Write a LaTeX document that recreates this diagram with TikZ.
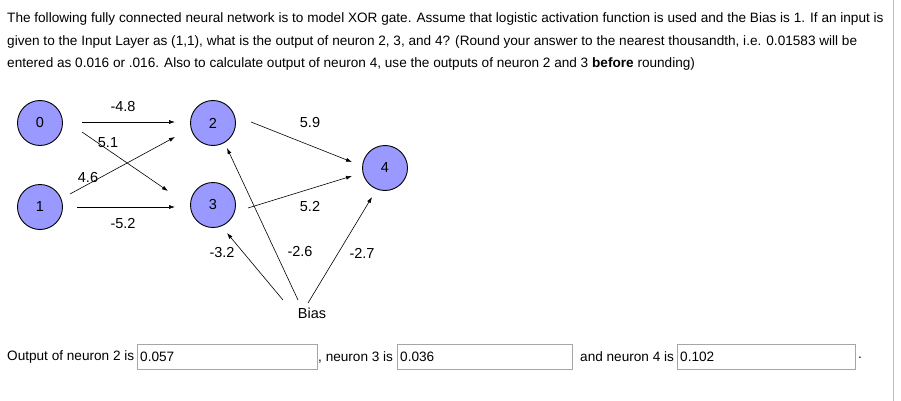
\documentclass[tikz,border=0pt]{standalone}
\usepackage{fontspec}
\setmainfont{Liberation Sans}
\usetikzlibrary{arrows.meta}
\begin{document}
\begin{tikzpicture}[x=1pt,y=-1pt,
  neuron/.style={circle,draw=black,line width=0.9pt,fill={rgb,255:red,153;green,153;blue,255},minimum size=45pt,inner sep=0pt,font=\fontsize{14.5}{16}\selectfont},
  wlab/.style={font=\fontsize{14.5}{16}\selectfont},
  conn/.style={-{Latex[length=6pt,width=4pt]},line width=0.6pt},
  hdr/.style={anchor=west,inner sep=0pt,font=\fontsize{13.6}{15}\selectfont},
  ansbox/.style={draw=gray!70,minimum height=25pt,anchor=west,inner sep=3pt,align=left,font=\fontsize{13.6}{15}\selectfont,text depth=0pt}]
\useasboundingbox (0,0) rectangle (901,401);
\draw[gray!50] (893,0) -- (893,401);
\node[hdr] (h1) at (7,19) {The following fully connected neural network is to model XOR gate. Assume that logistic activation function is used and the Bias is 1. If an input is};
\node[hdr] (h2) at (7,42) {given to the Input Layer as (1,1), what is the output of neuron 2, 3, and 4? (Round your answer to the nearest thousandth, i.e. 0.01583 will be};
\node[hdr] (h3) at (7,64) {entered as 0.016 or .016. Also to calculate output of neuron 4, use the outputs of neuron 2 and 3 \textbf{before} rounding)};
\node[neuron] (n0) at (40,123) {0};
\node[neuron] (n1) at (40,207) {1};
\node[neuron] (n2) at (213,123) {2};
\node[neuron] (n3) at (213,205) {3};
\node[neuron] (n4) at (385,168) {4};
\node[wlab] (bias) at (312,313) {Bias};
\coordinate (a0s) at (82,122); \coordinate (a0e) at (175,122);
\coordinate (b0s) at (82,132); \coordinate (b0e) at (168,191);
\coordinate (a1s) at (70,194); \coordinate (a1e) at (175,137);
\coordinate (b1s) at (77,207); \coordinate (b1e) at (175,207);
\coordinate (c2s) at (251,122); \coordinate (c2e) at (352,162);
\coordinate (c3s) at (248,208); \coordinate (c3e) at (352,176);
\coordinate (d3s) at (283,300); \coordinate (d3e) at (227,233);
\coordinate (d2s) at (298,300); \coordinate (d2e) at (227,148);
\coordinate (d4s) at (308,303); \coordinate (d4e) at (372,197);
\draw[conn] (a0s) -- (a0e);
\draw[conn] (b0s) -- (b0e);
\draw[conn] (a1s) -- (a1e);
\draw[conn] (b1s) -- (b1e);
\draw[conn] (c2s) -- (c2e);
\draw[conn] (c3s) -- (c3e);
\draw[conn] (d3s) -- (d3e);
\draw[conn] (d2s) -- (d2e);
\draw[conn] (d4s) -- (d4e);
\node[wlab] (l1) at (123,107) {-4.8};
\node[wlab] (l2) at (108,143) {5.1};
\node[wlab] (l3) at (88,178) {4.6};
\node[wlab] (l4) at (123,224) {-5.2};
\node[wlab] (l5) at (310,123) {5.9};
\node[wlab] (l6) at (310,207) {5.2};
\node[wlab] (l7) at (222,253) {-3.2};
\node[wlab] (l8) at (300,252) {-2.6};
\node[wlab] (l9) at (362,253) {-2.7};
\node[hdr] (o1) at (7,357) {Output of neuron 2 is};
\node[ansbox,text width=174pt] (bx1) at (137,357) {0.057};
\node[hdr] (o2) at (318,357) {, neuron 3 is};
\node[ansbox,text width=169pt] (bx2) at (397,357) {0.036};
\node[hdr] (o3) at (580,357) {and neuron 4 is};
\node[ansbox,text width=172pt] (bx3) at (677,357) {0.102};
\node[hdr] (o4) at (858,358) {.};
\end{tikzpicture}
\end{document}
